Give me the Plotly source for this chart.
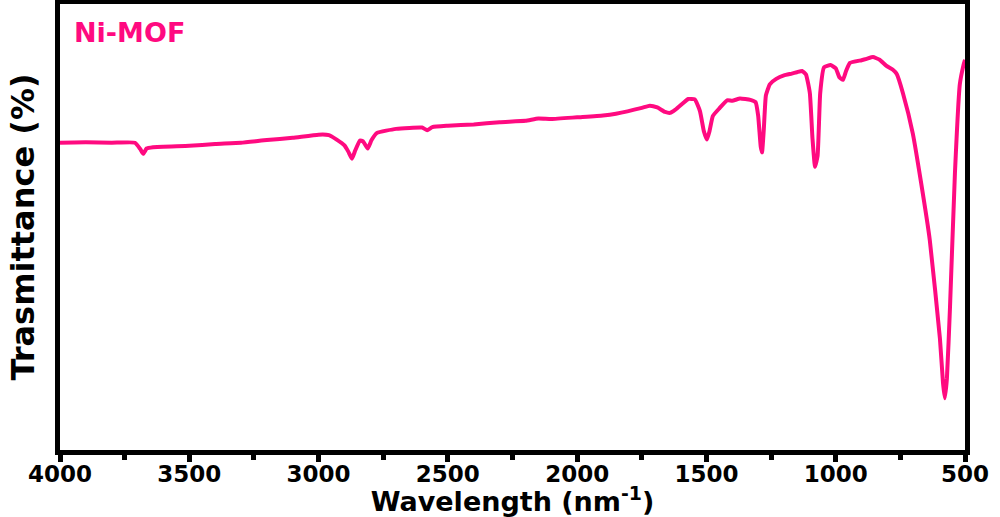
import plotly.graph_objects as go

# wavenumber (cm^-1 as labelled on the chart) and transmittance (a.u.)
wavenumber = [4000, 3900, 3800, 3710, 3690, 3678, 3665, 3640, 3500, 3400, 3300, 3200, 3100,
              3000, 2960, 2930, 2900, 2885, 2871, 2858, 2840, 2828, 2810, 2795, 2774, 2700,
              2600, 2580, 2560, 2500, 2400, 2300, 2200, 2150, 2100, 2000, 1900, 1850, 1750,
              1719, 1690, 1660, 1640, 1620, 1590, 1570, 1545, 1525, 1510, 1498, 1488, 1475,
              1450, 1420, 1400, 1370, 1330, 1310, 1300, 1290, 1285, 1278, 1270, 1255, 1230,
              1200, 1170, 1150, 1130, 1115, 1100, 1090, 1080, 1070, 1060, 1045, 1020, 1000,
              985, 972, 960, 945, 900, 880, 856, 830, 805, 780, 764, 740, 702, 670, 636, 597,
              585, 578, 570, 558, 539, 520, 505, 500]
transmittance = [68.9, 69.0, 68.9, 68.9, 67.5, 66.4, 67.6, 67.9, 68.2, 68.6, 68.9, 69.5, 70.0,
                 70.7, 70.6, 69.6, 68.3, 66.9, 65.3, 67.2, 69.4, 69.2, 67.6, 69.5, 71.1, 72.0,
                 72.3, 71.7, 72.4, 72.7, 73.0, 73.5, 73.8, 74.3, 74.2, 74.6, 75.0, 75.4, 76.7,
                 77.2, 76.8, 75.8, 75.6, 76.3, 77.8, 78.7, 78.6, 76.0, 71.5, 69.6, 71.5, 74.9,
                 76.6, 78.4, 78.3, 78.8, 78.5, 78.0, 75.0, 68.0, 66.7, 72.0, 79.5, 82.0, 83.2,
                 84.0, 84.4, 84.7, 85.0, 84.2, 80.0, 70.0, 63.5, 66.0, 80.0, 85.8, 86.3, 85.6,
                 83.5, 83.0, 85.0, 86.8, 87.4, 87.7, 88.1, 87.5, 86.2, 85.3, 84.3, 80.0, 71.0,
                 60.0, 47.0, 25.0, 15.0, 11.6, 16.0, 32.0, 62.0, 82.0, 86.5, 87.5]

x_ticks = [4000, 3500, 3000, 2500, 2000, 1500, 1000, 500]

pink = '#ff0a80'
font_family = 'DejaVu Sans'

fig = go.Figure()

fig.add_trace(go.Scatter(
    x=wavenumber,
    y=transmittance,
    mode='lines',
    line=dict(color=pink, width=4, shape='spline', smoothing=0.4),
    showlegend=False
))

fig.add_annotation(
    text='<b>Ni-MOF</b>',
    xref='paper', yref='paper',
    x=0.013, y=0.937,
    xanchor='left', yanchor='middle',
    showarrow=False,
    font=dict(family=font_family, size=27, color=pink)
)

fig.update_layout(
    width=1000, height=517,
    margin=dict(l=60, r=35, t=4, b=67),
    plot_bgcolor='white',
    paper_bgcolor='white',
    xaxis=dict(
        range=[4000, 500],
        tickvals=x_ticks,
        ticks='outside', ticklen=7, tickwidth=5, tickcolor='black',
        minor=dict(dtick=250, tick0=500, ticks='outside', ticklen=5, tickwidth=5, tickcolor='black'),
        showline=True, linewidth=5, linecolor='black', mirror=True,
        showgrid=False, zeroline=False,
        tickfont=dict(family=font_family, size=23, color='black', weight='bold'),
        ticklabelstandoff=-8,
        title=dict(text='<b>Wavelength (nm<sup>-1</sup>)</b>',
                   font=dict(family=font_family, size=27, color='black'),
                   standoff=2),
        automargin=False
    ),
    yaxis=dict(
        range=[0, 100],
        showticklabels=False,
        ticks='',
        showline=True, linewidth=5, linecolor='black', mirror=True,
        showgrid=False, zeroline=False,
        title=dict(text='<b>Trasmittance (%)</b>',
                   font=dict(family=font_family, size=32, color='black'),
                   standoff=12),
        automargin=False
    )
)

fig.write_html("out.html", config={'displayModeBar': False},
               post_script="document.body.style.margin='0px';")
